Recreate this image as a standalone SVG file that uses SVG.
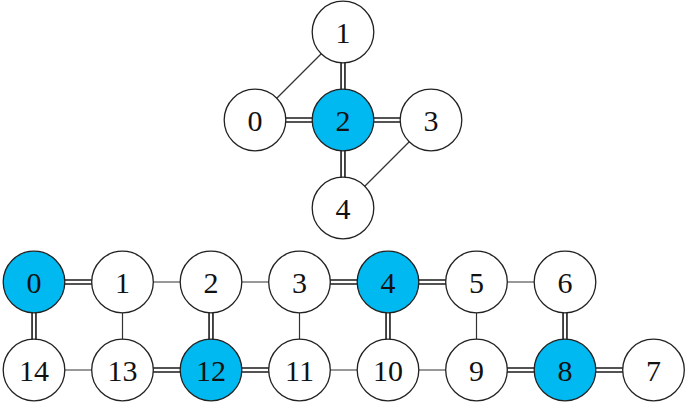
<svg xmlns="http://www.w3.org/2000/svg" width="685" height="404" viewBox="0 0 685 404">
<style>
.s{stroke:#333;stroke-width:1.2;fill:none}
.do{stroke:#1a1a1a;stroke-width:5.5;fill:none}
.di{stroke:#fff;stroke-width:2.3;fill:none}
.n{fill:#fff;stroke:#222;stroke-width:1.3}
.h{fill:#00B9F0;stroke:#222;stroke-width:1.3}
text{font-family:"Liberation Serif","Times New Roman",serif;font-size:30px;fill:#111;text-anchor:middle}
</style>
<rect width="685" height="404" fill="#fff"/>
<g id="connectors">
<line class="s" x1="255" y1="120" x2="343" y2="32"/>
<line class="s" x1="431" y1="120" x2="343" y2="208"/>
<line class="s" x1="122.5" y1="282" x2="211" y2="282"/>
<line class="s" x1="211" y1="282" x2="299.5" y2="282"/>
<line class="s" x1="476.5" y1="282" x2="565" y2="282"/>
<line class="s" x1="122.5" y1="282" x2="122.5" y2="370"/>
<line class="s" x1="299.5" y1="282" x2="299.5" y2="370"/>
<line class="s" x1="476.5" y1="282" x2="476.5" y2="370"/>
<line class="s" x1="34" y1="370" x2="122.5" y2="370"/>
<line class="s" x1="299.5" y1="370" x2="388" y2="370"/>
<line class="s" x1="388" y1="370" x2="476.5" y2="370"/>
<g class="do">
<line x1="343" y1="32" x2="343" y2="120"/>
<line x1="255" y1="120" x2="343" y2="120"/>
<line x1="343" y1="120" x2="431" y2="120"/>
<line x1="343" y1="120" x2="343" y2="208"/>
<line x1="34" y1="282" x2="122.5" y2="282"/>
<line x1="299.5" y1="282" x2="388" y2="282"/>
<line x1="388" y1="282" x2="476.5" y2="282"/>
<line x1="34" y1="282" x2="34" y2="370"/>
<line x1="211" y1="282" x2="211" y2="370"/>
<line x1="388" y1="282" x2="388" y2="370"/>
<line x1="565" y1="282" x2="565" y2="370"/>
<line x1="122.5" y1="370" x2="211" y2="370"/>
<line x1="211" y1="370" x2="299.5" y2="370"/>
<line x1="476.5" y1="370" x2="565" y2="370"/>
<line x1="565" y1="370" x2="653.5" y2="370"/>
</g>
<g class="di">
<line x1="343" y1="32" x2="343" y2="120"/>
<line x1="255" y1="120" x2="343" y2="120"/>
<line x1="343" y1="120" x2="431" y2="120"/>
<line x1="343" y1="120" x2="343" y2="208"/>
<line x1="34" y1="282" x2="122.5" y2="282"/>
<line x1="299.5" y1="282" x2="388" y2="282"/>
<line x1="388" y1="282" x2="476.5" y2="282"/>
<line x1="34" y1="282" x2="34" y2="370"/>
<line x1="211" y1="282" x2="211" y2="370"/>
<line x1="388" y1="282" x2="388" y2="370"/>
<line x1="565" y1="282" x2="565" y2="370"/>
<line x1="122.5" y1="370" x2="211" y2="370"/>
<line x1="211" y1="370" x2="299.5" y2="370"/>
<line x1="476.5" y1="370" x2="565" y2="370"/>
<line x1="565" y1="370" x2="653.5" y2="370"/>
</g>
</g>
<g id="top-0"><circle class="n" cx="255" cy="120" r="30.8"/><text x="255" y="131">0</text></g>
<g id="top-1"><circle class="n" cx="343" cy="32" r="30.8"/><text x="343" y="43">1</text></g>
<g id="top-2"><circle class="h" cx="343" cy="120" r="30.8"/><text x="343" y="131">2</text></g>
<g id="top-3"><circle class="n" cx="431" cy="120" r="30.8"/><text x="431" y="131">3</text></g>
<g id="top-4"><circle class="n" cx="343" cy="208" r="30.8"/><text x="343" y="219">4</text></g>
<g id="b-0"><circle class="h" cx="34" cy="282" r="30.8"/><text x="34" y="293">0</text></g>
<g id="b-1"><circle class="n" cx="122.5" cy="282" r="30.8"/><text x="122.5" y="293">1</text></g>
<g id="b-2"><circle class="n" cx="211" cy="282" r="30.8"/><text x="211" y="293">2</text></g>
<g id="b-3"><circle class="n" cx="299.5" cy="282" r="30.8"/><text x="299.5" y="293">3</text></g>
<g id="b-4"><circle class="h" cx="388" cy="282" r="30.8"/><text x="388" y="293">4</text></g>
<g id="b-5"><circle class="n" cx="476.5" cy="282" r="30.8"/><text x="476.5" y="293">5</text></g>
<g id="b-6"><circle class="n" cx="565" cy="282" r="30.8"/><text x="565" y="293">6</text></g>
<g id="b-14"><circle class="n" cx="34" cy="370" r="30.8"/><text x="34" y="381">14</text></g>
<g id="b-13"><circle class="n" cx="122.5" cy="370" r="30.8"/><text x="122.5" y="381">13</text></g>
<g id="b-12"><circle class="h" cx="211" cy="370" r="30.8"/><text x="211" y="381">12</text></g>
<g id="b-11"><circle class="n" cx="299.5" cy="370" r="30.8"/><text x="299.5" y="381">11</text></g>
<g id="b-10"><circle class="n" cx="388" cy="370" r="30.8"/><text x="388" y="381">10</text></g>
<g id="b-9"><circle class="n" cx="476.5" cy="370" r="30.8"/><text x="476.5" y="381">9</text></g>
<g id="b-8"><circle class="h" cx="565" cy="370" r="30.8"/><text x="565" y="381">8</text></g>
<g id="b-7"><circle class="n" cx="653.5" cy="370" r="30.8"/><text x="653.5" y="381">7</text></g>
</svg>
